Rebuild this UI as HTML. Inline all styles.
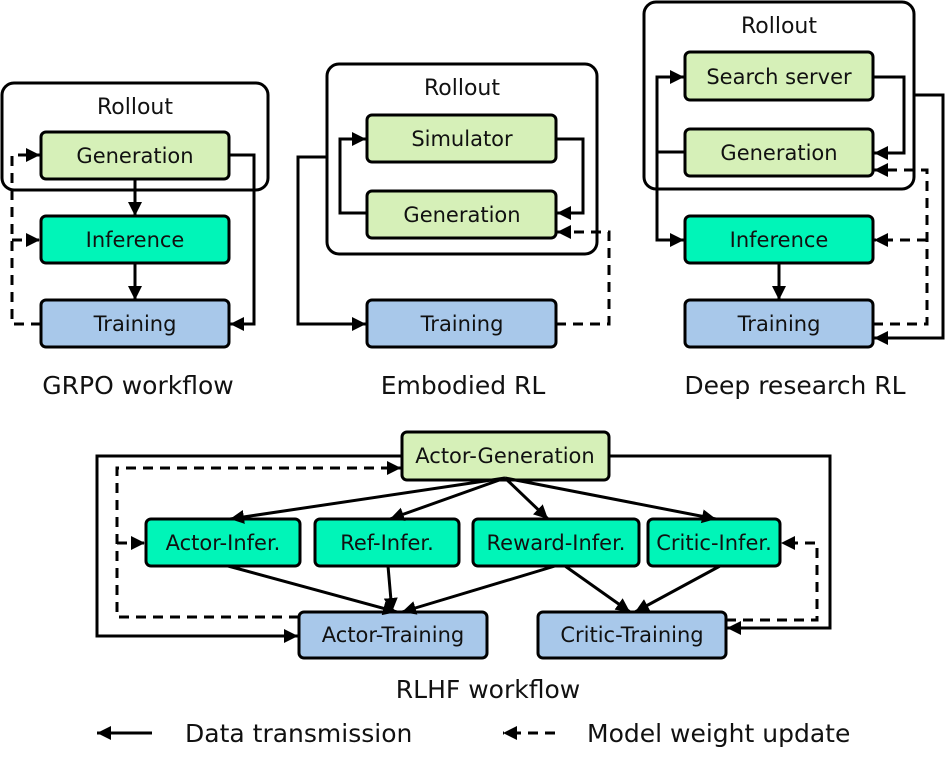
<!DOCTYPE html>
<html><head><meta charset="utf-8"><style>body{margin:0;background:#fff}svg{display:block}text{font-family:"DejaVu Sans","Liberation Sans",sans-serif;fill:#111}</style></head><body>
<svg width="947" height="769" viewBox="0 0 947 769" xmlns="http://www.w3.org/2000/svg">
<defs><marker id="a" viewBox="0 0 10 10" refX="10" refY="5" markerWidth="14" markerHeight="14" markerUnits="userSpaceOnUse" orient="auto"><path d="M0,0L10,5L0,10z" fill="#000"/></marker></defs>
<g fill="none" stroke="#000" stroke-width="3">
<rect x="2" y="83" width="266" height="107" rx="12"/>
<rect x="327" y="64" width="270" height="190" rx="12"/>
<rect x="644" y="2" width="270" height="187" rx="12"/>
</g>
<g stroke="#000" stroke-width="3">
<rect x="41" y="132" width="188" height="47" rx="5" fill="#d6f0b8"/>
<rect x="41" y="216" width="188" height="47" rx="5" fill="#00f5b8"/>
<rect x="41" y="300" width="188" height="47" rx="5" fill="#a8c8ea"/>
<rect x="367" y="115" width="189" height="47" rx="5" fill="#d6f0b8"/>
<rect x="367" y="191" width="189" height="47" rx="5" fill="#d6f0b8"/>
<rect x="367" y="300" width="189" height="47" rx="5" fill="#a8c8ea"/>
<rect x="685" y="52" width="188" height="48" rx="5" fill="#d6f0b8"/>
<rect x="685" y="129" width="188" height="47" rx="5" fill="#d6f0b8"/>
<rect x="685" y="216" width="188" height="47" rx="5" fill="#00f5b8"/>
<rect x="685" y="300" width="188" height="47" rx="5" fill="#a8c8ea"/>
<rect x="402" y="432" width="207" height="48" rx="5" fill="#d6f0b8"/>
<rect x="146" y="519" width="154" height="47" rx="5" fill="#00f5b8"/>
<rect x="315" y="519" width="144" height="47" rx="5" fill="#00f5b8"/>
<rect x="473" y="519" width="166" height="47" rx="5" fill="#00f5b8"/>
<rect x="648" y="519" width="132" height="47" rx="5" fill="#00f5b8"/>
<rect x="299" y="612" width="188" height="46" rx="5" fill="#a8c8ea"/>
<rect x="538" y="612" width="188" height="46" rx="5" fill="#a8c8ea"/>
</g>
<g fill="none" stroke="#000" stroke-width="3" marker-end="url(#a)">
<path d="M135 179V216"/><path d="M135 263V300"/>
<path d="M229 155H254V324H230"/>
<path d="M556 139H583V213H557"/><path d="M367 213H340V139H366"/>
<path d="M327 157H298V324H366"/>
<path d="M873 77H904V153H874"/><path d="M685 152H657V77H684"/><path d="M657 152V240H684"/>
<path d="M914 95H943V338H874"/><path d="M779 263V300"/>
<path d="M402 456H97V636H298"/><path d="M609 456H830V628H727"/>
<path d="M505 478L230 519"/><path d="M505 478L390 519"/><path d="M505 478L548 519"/><path d="M505 478L716 519"/>
<path d="M228 566L397 612"/><path d="M388 566L392 612"/><path d="M555 566L402 612"/><path d="M565 566L630 612"/><path d="M720 566L635 612"/>
<path d="M152 733H97"/>
</g>
<g fill="none" stroke="#000" stroke-width="3" stroke-dasharray="10,7" marker-end="url(#a)">
<path d="M41 324H12V155H40"/><path d="M12 240H40"/>
<path d="M556 324H609V232H557"/>
<path d="M873 324H927V170H874"/><path d="M927 240H874"/>
<path d="M299 617H117V468H401"/><path d="M117 543H145"/>
<path d="M726 620H817V543H781"/>
<path d="M555 733H503"/>
</g>
<g font-size="22" text-anchor="middle">
<text x="135" y="114">Rollout</text><text x="462" y="95">Rollout</text><text x="779" y="33">Rollout</text>
</g>
<g font-size="21" text-anchor="middle">
<text x="135" y="163">Generation</text><text x="135" y="247">Inference</text><text x="135" y="331">Training</text>
<text x="462" y="146">Simulator</text><text x="462" y="222">Generation</text><text x="462" y="331">Training</text>
<text x="779" y="84">Search server</text><text x="779" y="160">Generation</text><text x="779" y="247">Inference</text><text x="779" y="331">Training</text>
<text x="505" y="463">Actor-Generation</text><text x="223" y="550">Actor-Infer.</text><text x="387" y="550">Ref-Infer.</text><text x="556" y="550">Reward-Infer.</text><text x="714" y="550">Critic-Infer.</text>
<text x="393" y="642">Actor-Training</text><text x="632" y="642">Critic-Training</text>
</g>
<g font-size="25" text-anchor="middle">
<text x="138" y="394">GRPO workflow</text><text x="463" y="394">Embodied RL</text><text x="795" y="394">Deep research RL</text>
<text x="488" y="698">RLHF workflow</text>
</g>
<g font-size="25"><text x="185" y="742">Data transmission</text><text x="587" y="742">Model weight update</text></g>
</svg></body></html>
